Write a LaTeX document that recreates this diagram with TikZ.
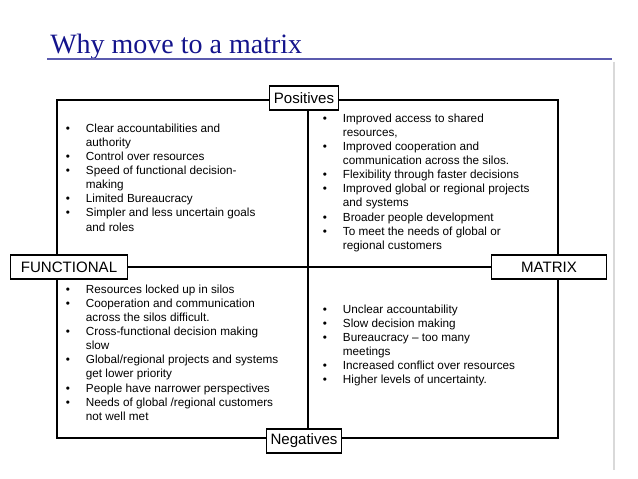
\documentclass[tikz,border=0pt]{standalone}
\usepackage{fontspec}
\setmainfont{Liberation Sans}
\newfontfamily\titlefont{Liberation Serif}
\definecolor{navy}{RGB}{20,20,140}
\newcommand{\qb}{\hspace{2pt}\textbullet}
\tikzset{
  lbl/.style={draw,thick,fill=white,font=\fontsize{11.3}{13}\selectfont,inner sep=3pt,minimum height=18pt},
  lst/.style={anchor=north west,inner sep=0pt,font=\fontsize{8.8}{10.6}\selectfont,align=left}
}
\newenvironment{qlist}{\renewcommand{\arraystretch}{1}\begin{tabular}{@{}p{17pt}@{}l@{}}}{\end{tabular}}
\begin{document}
\begin{tikzpicture}[x=0.75pt,y=-0.75pt]
\useasboundingbox (0,0) rectangle (638,478);
\node[anchor=base west,inner sep=0pt,text=navy,font=\titlefont\fontsize{21}{23}\selectfont] (title) at (50,54) {Why move to a matrix};
\coordinate (ul1) at (47,59); \coordinate (ul2) at (612,59);
\draw[navy!70,line width=0.8pt] (ul1) -- (ul2);
\coordinate (gr1) at (614,62); \coordinate (gr2) at (614,470);
\draw[black!15,line width=1pt] (gr1) -- (gr2);
\coordinate (tl) at (57,100); \coordinate (br) at (558,438);
\draw[thick] (tl) rectangle (br);
\coordinate (vt) at (308,100); \coordinate (vb) at (308,438);
\draw[thick] (vt) -- (vb);
\node[lbl] (pos) at (304,98) {Positives};
\node[lbl] (neg) at (304,441) {Negatives};
\node[lbl,minimum width=88pt] (fun) at (69,267) {FUNCTIONAL};
\node[lbl,minimum width=86pt] (mat) at (549,267) {MATRIX};
\draw[thick] (fun) -- (mat);
\node[lst] (q1) at (63,122) {\begin{qlist}
\qb & Clear accountabilities  and\\
 & authority\\
\qb & Control over resources\\
\qb & Speed of functional decision-\\
 & making\\
\qb & Limited Bureaucracy\\
\qb & Simpler and less uncertain goals\\
 & and roles
\end{qlist}};
\node[lst] (q2) at (320,112) {\begin{qlist}
\qb & Improved access to shared\\
 & resources,\\
\qb & Improved cooperation and\\
 & communication across the silos.\\
\qb & Flexibility through faster decisions\\
\qb & Improved global or regional projects\\
 & and systems\\
\qb & Broader people development\\
\qb & To meet the needs of global or\\
 & regional customers
\end{qlist}};
\node[lst] (q3) at (63,283) {\begin{qlist}
\qb & Resources locked up in silos\\
\qb & Cooperation and communication\\
 & across the silos difficult.\\
\qb & Cross-functional decision making\\
 & slow\\
\qb & Global/regional projects and systems\\
 & get lower priority\\
\qb & People have narrower perspectives\\
\qb & Needs of global /regional customers\\
 & not well met
\end{qlist}};
\node[lst] (q4) at (320,303) {\begin{qlist}
\qb & Unclear accountability\\
\qb & Slow decision making\\
\qb & Bureaucracy -- too many\\
 & meetings\\
\qb & Increased conflict over resources\\
\qb & Higher levels of uncertainty.
\end{qlist}};
\end{tikzpicture}
\end{document}
